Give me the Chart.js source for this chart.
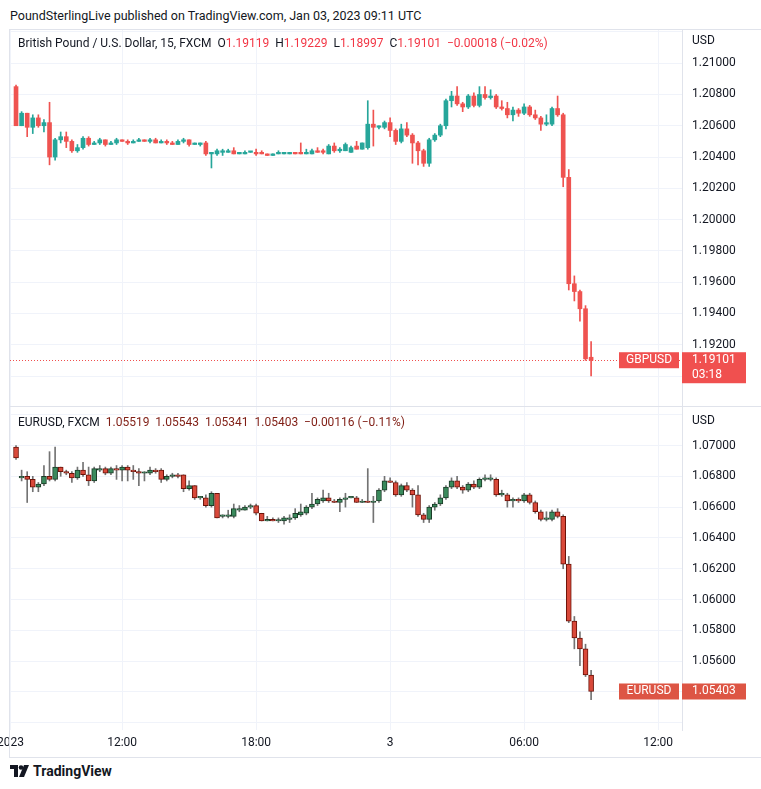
<!DOCTYPE html>
<html>
<head>
<meta charset="utf-8">
<script src="https://cdn.jsdelivr.net/npm/chart.js@4.4.1/dist/chart.umd.min.js"></script>
<style>
  body { margin: 0; background: #fff; font-family: Roboto, "Noto Sans", sans-serif; color: #131722; }
  #wrap { position: relative; width: 761px; height: 789px; overflow: hidden; }
  canvas { position: absolute; left: 0; }
  .txt { position: absolute; font-size: 12px; white-space: nowrap; }
  .frame { position: absolute; left: 9px; width: 752px; border-top: 1px solid #e0e3eb; }
</style>
</head>
<body>
<div id="wrap">
  <div class="txt" style="left:10px;top:8px;font-size:12.5px;">PoundSterlingLive published on TradingView.com, Jan 03, 2023 09:11 UTC</div>
  <canvas id="gbp" width="761" height="377" style="top:30px"></canvas>
  <canvas id="eur" width="761" height="350" style="top:407px"></canvas>
  <div class="frame" style="top:29px"></div>
  <div class="frame" style="top:406px"></div>
  <div class="frame" style="top:757px"></div>
  <div style="position:absolute;left:9px;top:29px;height:729px;border-left:1px solid #e0e3eb"></div>
  <div class="txt" style="left:18px;top:36px;">British Pound / U.S. Dollar, 15, FXCM&nbsp;&nbsp;O<span style="color:#f23645">1.19119</span>&nbsp;&nbsp;H<span style="color:#f23645">1.19229</span>&nbsp;&nbsp;L<span style="color:#f23645">1.18997</span>&nbsp;&nbsp;C<span style="color:#f23645">1.19101</span>&nbsp;&nbsp;<span style="color:#f23645">−0.00018 (−0.02%)</span></div>
  <div class="txt" style="left:692px;top:33px;">USD</div>
  <div class="txt" style="left:18px;top:415px;">EURUSD, FXCM&nbsp;&nbsp;<span style="color:#7f1d14">1.05519&nbsp;&nbsp;1.05543&nbsp;&nbsp;1.05341&nbsp;&nbsp;1.05403&nbsp;&nbsp;−0.00116 (−0.11%)</span></div>
  <div class="txt" style="left:692px;top:413px;">USD</div>
  <div class="txt" style="left:10px;top:763px;font-size:14px;font-weight:bold;">
    <svg width="20" height="12" viewBox="0 0 20 12" style="vertical-align:-1px"><path d="M0 0h8v12H4V4H0z" fill="#131722"/><circle cx="11" cy="2.5" r="2.3" fill="#131722"/><path d="M14 0h5l-5 12h-5z" fill="#131722"/></svg>
    TradingView</div>
</div>
<script>
// 15-minute candles, Jan 2 07:15 UTC to Jan 3 09:00 UTC
const startHour = 7.25;
const step = 0.25;

const gbpOpen = [1.2085,1.2060,1.2068,1.2059,1.2065,1.2060,1.2062,1.2040,1.2051,1.2053,1.2050,1.2044,1.2046,1.2052,1.2048,1.2049,1.2051,1.2048,1.2049,1.2051,1.2050,1.2049,1.2050,1.2051,1.2050,1.2051,1.2049,1.2050,1.2049,1.2048,1.2050,1.2051,1.2048,1.2048,1.2049,1.2042,1.2042,1.2043,1.2043,1.2044,1.2042,1.2042,1.2043,1.2043,1.2043,1.2042,1.2041,1.2042,1.2042,1.2042,1.2043,1.2043,1.2042,1.2042,1.2044,1.2044,1.2042,1.2047,1.2044,1.2044,1.2043,1.2047,1.2045,1.2046,1.2061,1.2059,1.2059,1.2062,1.2057,1.2050,1.2058,1.2054,1.2049,1.2044,1.2036,1.2051,1.2054,1.2060,1.2076,1.2079,1.2074,1.2072,1.2079,1.2073,1.2080,1.2078,1.2079,1.2072,1.2071,1.2067,1.2070,1.2068,1.2072,1.2067,1.2065,1.2061,1.2061,1.2071,1.2067,1.2027,1.1959,1.1954,1.1943,1.1912];
const gbpHigh = [1.2086,1.2069,1.2068,1.2067,1.2067,1.2064,1.2075,1.2052,1.2056,1.2056,1.2051,1.2048,1.2053,1.2053,1.2050,1.2052,1.2051,1.2050,1.2052,1.2051,1.2051,1.2051,1.2052,1.2051,1.2052,1.2052,1.2051,1.2051,1.2050,1.2051,1.2052,1.2051,1.2049,1.2049,1.2050,1.2043,1.2045,1.2045,1.2045,1.2046,1.2043,1.2044,1.2043,1.2045,1.2044,1.2042,1.2042,1.2044,1.2043,1.2043,1.2043,1.2049,1.2045,1.2045,1.2046,1.2045,1.2048,1.2049,1.2046,1.2049,1.2047,1.2050,1.2049,1.2076,1.2070,1.2060,1.2063,1.2065,1.2058,1.2061,1.2062,1.2055,1.2050,1.2045,1.2052,1.2055,1.2061,1.2077,1.2082,1.2085,1.2075,1.2080,1.2081,1.2085,1.2085,1.2083,1.2080,1.2076,1.2075,1.2072,1.2071,1.2074,1.2073,1.2070,1.2066,1.2067,1.2072,1.2079,1.2068,1.2032,1.1964,1.1955,1.1945,1.1922];
const gbpLow = [1.2060,1.2060,1.2053,1.2055,1.2059,1.2056,1.2035,1.2038,1.2049,1.2046,1.2043,1.2043,1.2045,1.2047,1.2048,1.2048,1.2047,1.2048,1.2048,1.2050,1.2048,1.2049,1.2050,1.2050,1.2049,1.2049,1.2049,1.2048,1.2048,1.2048,1.2049,1.2047,1.2048,1.2047,1.2041,1.2033,1.2041,1.2041,1.2043,1.2042,1.2042,1.2042,1.2043,1.2041,1.2042,1.2041,1.2041,1.2042,1.2042,1.2042,1.2042,1.2042,1.2042,1.2042,1.2043,1.2042,1.2042,1.2043,1.2043,1.2044,1.2043,1.2045,1.2045,1.2045,1.2047,1.2058,1.2058,1.2053,1.2048,1.2049,1.2053,1.2036,1.2035,1.2034,1.2034,1.2050,1.2053,1.2058,1.2072,1.2073,1.2069,1.2071,1.2072,1.2072,1.2077,1.2077,1.2071,1.2070,1.2065,1.2063,1.2066,1.2067,1.2066,1.2064,1.2057,1.2060,1.2060,1.2066,1.2021,1.1955,1.1948,1.1935,1.1910,1.1900];
const gbpClose = [1.2060,1.2068,1.2059,1.2065,1.2060,1.2062,1.2040,1.2051,1.2053,1.2050,1.2044,1.2046,1.2052,1.2048,1.2049,1.2051,1.2048,1.2049,1.2051,1.2050,1.2049,1.2050,1.2051,1.2050,1.2051,1.2049,1.2050,1.2049,1.2048,1.2050,1.2051,1.2048,1.2048,1.2049,1.2042,1.2043,1.2044,1.2044,1.2044,1.2042,1.2043,1.2043,1.2043,1.2042,1.2042,1.2041,1.2042,1.2043,1.2043,1.2042,1.2042,1.2042,1.2043,1.2044,1.2043,1.2043,1.2047,1.2044,1.2045,1.2048,1.2046,1.2045,1.2049,1.2061,1.2059,1.2059,1.2062,1.2057,1.2050,1.2058,1.2054,1.2049,1.2044,1.2036,1.2051,1.2054,1.2060,1.2076,1.2079,1.2074,1.2072,1.2079,1.2073,1.2080,1.2078,1.2079,1.2072,1.2071,1.2067,1.2070,1.2068,1.2072,1.2067,1.2065,1.2061,1.2061,1.2071,1.2067,1.2027,1.1959,1.1954,1.1943,1.1911,1.19101];

const eurOpen = [1.0699,1.0679,1.0680,1.0678,1.0673,1.0675,1.0680,1.0678,1.0686,1.0683,1.0682,1.0679,1.0684,1.0681,1.0677,1.0684,1.0685,1.0682,1.0685,1.0684,1.0686,1.0684,1.0683,1.0682,1.0682,1.0684,1.0684,1.0678,1.0680,1.0681,1.0681,1.0672,1.0674,1.0666,1.0666,1.0661,1.0669,1.0654,1.0654,1.0654,1.0658,1.0658,1.0660,1.0661,1.0656,1.0651,1.0652,1.0651,1.0651,1.0652,1.0653,1.0655,1.0656,1.0660,1.0662,1.0664,1.0666,1.0664,1.0663,1.0665,1.0666,1.0666,1.0663,1.0664,1.0663,1.0664,1.0671,1.0677,1.0676,1.0668,1.0674,1.0671,1.0668,1.0655,1.0652,1.0660,1.0662,1.0666,1.0673,1.0677,1.0673,1.0671,1.0675,1.0673,1.0678,1.0678,1.0678,1.0668,1.0668,1.0664,1.0665,1.0664,1.0668,1.0663,1.0657,1.0652,1.0652,1.0657,1.0654,1.0623,1.0586,1.0575,1.0568,1.0551];
const eurHigh = [1.0700,1.0684,1.0683,1.0680,1.0676,1.0687,1.0696,1.0699,1.0686,1.0684,1.0683,1.0686,1.0689,1.0686,1.0686,1.0687,1.0686,1.0686,1.0687,1.0687,1.0687,1.0687,1.0685,1.0683,1.0686,1.0685,1.0685,1.0681,1.0682,1.0682,1.0681,1.0677,1.0674,1.0667,1.0668,1.0670,1.0669,1.0655,1.0658,1.0662,1.0661,1.0661,1.0662,1.0662,1.0656,1.0654,1.0653,1.0653,1.0654,1.0655,1.0659,1.0662,1.0661,1.0669,1.0666,1.0671,1.0669,1.0665,1.0666,1.0669,1.0667,1.0667,1.0665,1.0685,1.0667,1.0672,1.0680,1.0679,1.0677,1.0675,1.0676,1.0672,1.0674,1.0656,1.0661,1.0663,1.0668,1.0674,1.0679,1.0680,1.0674,1.0676,1.0677,1.0679,1.0681,1.0681,1.0679,1.0671,1.0669,1.0666,1.0666,1.0669,1.0669,1.0664,1.0658,1.0657,1.0658,1.0659,1.0655,1.0628,1.0589,1.0579,1.0571,1.0554];
const eurLow = [1.0691,1.0677,1.0663,1.0670,1.0670,1.0674,1.0677,1.0677,1.0680,1.0681,1.0676,1.0678,1.0680,1.0674,1.0676,1.0683,1.0681,1.0681,1.0678,1.0677,1.0677,1.0678,1.0674,1.0677,1.0681,1.0682,1.0676,1.0677,1.0679,1.0679,1.0670,1.0671,1.0665,1.0665,1.0660,1.0660,1.0653,1.0653,1.0653,1.0653,1.0657,1.0658,1.0659,1.0655,1.0651,1.0651,1.0651,1.0650,1.0649,1.0650,1.0652,1.0654,1.0655,1.0659,1.0661,1.0663,1.0663,1.0663,1.0657,1.0660,1.0666,1.0663,1.0663,1.0663,1.0650,1.0663,1.0670,1.0676,1.0667,1.0667,1.0670,1.0660,1.0654,1.0650,1.0650,1.0658,1.0661,1.0665,1.0672,1.0672,1.0669,1.0670,1.0672,1.0672,1.0677,1.0677,1.0667,1.0667,1.0660,1.0660,1.0663,1.0663,1.0662,1.0656,1.0651,1.0651,1.0651,1.0653,1.0620,1.0585,1.0568,1.0557,1.0550,1.0535];
const eurClose = [1.0692,1.0680,1.0678,1.0673,1.0675,1.0680,1.0678,1.0686,1.0683,1.0682,1.0679,1.0684,1.0681,1.0677,1.0685,1.0685,1.0682,1.0685,1.0684,1.0686,1.0684,1.0683,1.0682,1.0682,1.0684,1.0683,1.0678,1.0680,1.0681,1.0680,1.0672,1.0674,1.0666,1.0666,1.0661,1.0669,1.0653,1.0654,1.0654,1.0659,1.0658,1.0660,1.0661,1.0656,1.0651,1.0652,1.0651,1.0651,1.0653,1.0653,1.0656,1.0657,1.0660,1.0662,1.0665,1.0666,1.0664,1.0663,1.0665,1.0666,1.0666,1.0663,1.0664,1.0663,1.0664,1.0671,1.0677,1.0676,1.0668,1.0674,1.0671,1.0668,1.0655,1.0652,1.0660,1.0662,1.0666,1.0673,1.0677,1.0673,1.0671,1.0675,1.0673,1.0678,1.0678,1.0678,1.0668,1.0668,1.0664,1.0665,1.0664,1.0668,1.0663,1.0657,1.0652,1.0652,1.0657,1.0654,1.0623,1.0586,1.0575,1.0568,1.0551,1.05403];

const xTicks = [7, 12, 18, 24, 30, 36];
const xTickLabels = ["2023", "12:00", "18:00", "3", "06:00", "12:00"];

const GRID = "#f0f3fa";

function candles(o, h, l, c, st) {
  const wick = [], body = [], wickCol = [], bodyCol = [], bordCol = [];
  for (let i = 0; i < c.length; i++) {
    const t = startHour + i * step;
    const up = c[i] >= o[i];
    wick.push({ x: t, y: [l[i], h[i]] });
    body.push({ x: t, y: [o[i], c[i]] });
    wickCol.push(st.wick ? st.wick : (up ? st.up : st.down));
    bodyCol.push(up ? st.up : st.down);
    bordCol.push(up ? st.upBorder : st.downBorder);
  }
  return [
    { data: wick, backgroundColor: wickCol, barThickness: 1, minBarLength: 1, grouped: false, order: 2 },
    { data: body, backgroundColor: bodyCol, borderColor: bordCol, borderWidth: st.border, borderSkipped: false,
      barThickness: st.width, minBarLength: 1.5, grouped: false, order: 1 }
  ];
}

function priceTag(name, last, color, sub, line) {
  return {
    id: "tag" + name,
    afterDraw(chart) {
      const ctx = chart.ctx, a = chart.chartArea, y = chart.scales.y.getPixelForValue(last);
      ctx.save();
      if (line) {
        ctx.strokeStyle = color; ctx.setLineDash([1, 2]); ctx.lineWidth = 1;
        ctx.beginPath(); ctx.moveTo(a.left, Math.round(y) + 0.5); ctx.lineTo(a.right, Math.round(y) + 0.5); ctx.stroke();
        ctx.setLineDash([]);
      }
      ctx.fillStyle = color;
      ctx.fillRect(a.right - 63, y - 8, 60, 16);
      const h = sub ? 31 : 16;
      ctx.fillRect(a.right, y - 8, 64, h);
      ctx.fillStyle = "#fff";
      ctx.font = "12px Roboto, sans-serif";
      ctx.textBaseline = "middle";
      ctx.textAlign = "center";
      ctx.fillText(name, a.right - 33, y);
      ctx.textAlign = "left";
      ctx.fillText(last.toFixed(5), a.right + 10, y);
      if (sub) ctx.fillText(sub, a.right + 10, y + 15);
      ctx.restore();
    }
  };
}

function makeChart(id, datasets, yMin, yMax, showX, plugin) {
  return new Chart(document.getElementById(id), {
    type: "bar",
    data: { datasets },
    options: {
      responsive: false,
      animation: false,
      layout: { padding: { left: 10, top: 0, bottom: 0, right: 0 } },
      plugins: { legend: { display: false }, tooltip: { enabled: false } },
      scales: {
        x: {
          type: "linear", min: 6.98, max: 37.07, offset: false,
          afterBuildTicks: (s) => { s.ticks = xTicks.map(v => ({ value: v })); },
          afterFit: (s) => { s.height = showX ? 27 : 0; s.paddingLeft = 0; s.paddingRight = 0; },
          ticks: { display: showX, color: "#131722", font: { size: 12, family: "Roboto" }, padding: 6,
            maxRotation: 0, autoSkip: false,
            callback: (v) => xTickLabels[xTicks.indexOf(v)] },
          grid: { color: GRID, drawTicks: false, offset: false },
          border: { display: false }
        },
        y: {
          position: "right", min: yMin, max: yMax,
          afterBuildTicks: (s) => {
            const t = [];
            for (let v = Math.ceil(yMin / 0.002) * 0.002; v <= yMax; v += 0.002) t.push({ value: +v.toFixed(3) });
            s.ticks = t;
          },
          afterFit: (s) => { s.width = 79; s.paddingTop = 0; s.paddingBottom = 0; },
          ticks: { color: "#131722", font: { size: 12, family: "Roboto" }, padding: 10,
            callback: (v) => (v > yMax - 0.0008 || v < yMin + 0.0015) ? "" : v.toFixed(5) },
          grid: { color: GRID, drawTicks: false },
          border: { color: "#e0e3eb" }
        }
      }
    },
    plugins: [plugin]
  });
}

makeChart("gbp",
  candles(gbpOpen, gbpHigh, gbpLow, gbpClose, { up: "#26a69a", down: "#ef5350", upBorder: "#26a69a", downBorder: "#ef5350", border: 0, width: 4 }),
  1.18802, 1.21212, false,
  priceTag("GBPUSD", 1.19101, "#f0504f", "03:18", true));

makeChart("eur",
  candles(eurOpen, eurHigh, eurLow, eurClose, { up: "#3a8a5c", down: "#d9493a", upBorder: "#1b3b27", downBorder: "#6b1208", wick: "#737373", border: 1, width: 5 }),
  1.05153, 1.0725, true,
  priceTag("EURUSD", 1.05403, "#dd5544", null, false));
</script>
</body>
</html>
